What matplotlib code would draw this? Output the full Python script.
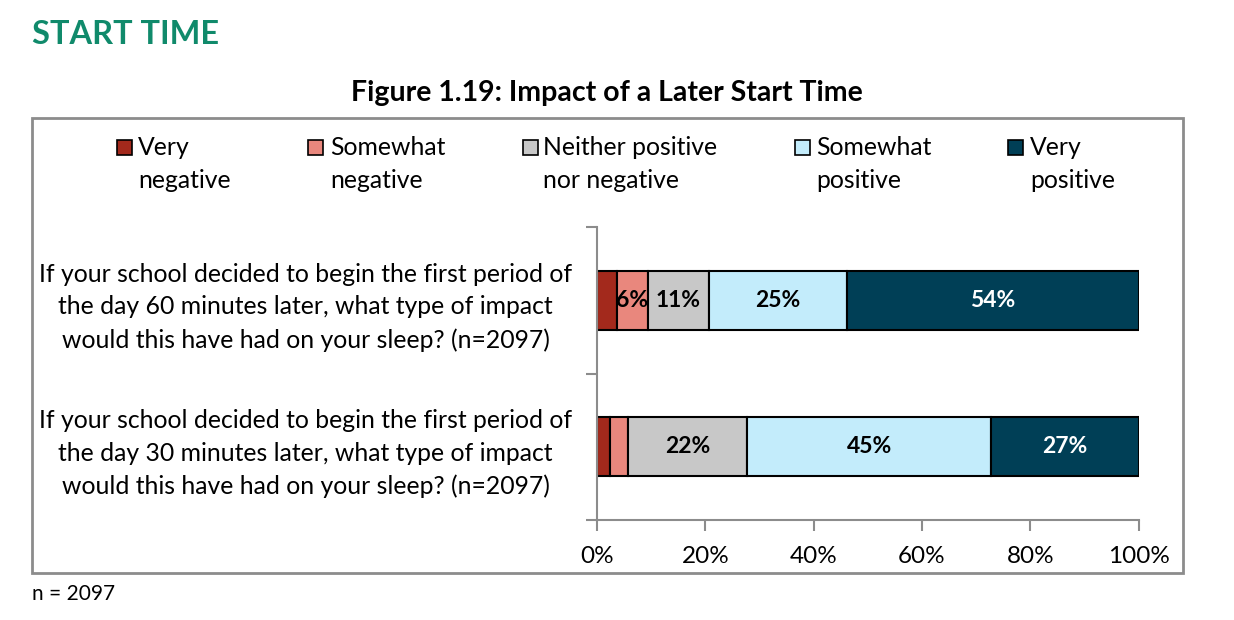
import matplotlib.pyplot as plt
from matplotlib.patches import Rectangle

plt.rcParams['font.family'] = ['Lato', 'DejaVu Sans']

categorias = ["Very\nnegative", "Somewhat\nnegative", "Neither positive\nnor negative",
              "Somewhat\npositive", "Very\npositive"]
perguntas = [
    "If your school decided to begin the first period of\nthe day 60 minutes later, what type of impact\nwould this have had on your sleep? (n=2097)",
    "If your school decided to begin the first period of\nthe day 30 minutes later, what type of impact\nwould this have had on your sleep? (n=2097)",
]
muito_neg = [3.7, 2.4]
algo_neg = [5.7, 3.3]
neutro = [11.3, 22.0]
algo_pos = [25.4, 45.1]
muito_pos = [54.0, 27.2]
ticks_x = [0, 20, 40, 60, 80, 100]

cores = ['#A3291C', '#E9877D', '#C8C8C8', '#C3ECFB', '#003F56']
cor_texto = ['black', 'black', 'black', 'black', 'white']
cinza = '#8C8C8C'

W, H = 1234, 620
fig = plt.figure(figsize=(W / 100, H / 100), dpi=100)
ax = fig.add_axes([597 / W, 1 - 520 / H, (1138.5 - 597) / W, (520 - 227) / H])

series = [muito_neg, algo_neg, neutro, algo_pos, muito_pos]
y = list(range(len(perguntas)))
base = [0] * len(perguntas)
for vals, cor, ct in zip(series, cores, cor_texto):
    barras = ax.barh(y, vals, left=base, height=0.4, color=cor,
                     edgecolor='black', linewidth=1.5)
    rot = [f"{v:.0f}%" if v >= 5 else "" for v in vals]
    ax.bar_label(barras, labels=rot, label_type='center', fontsize=16.5,
                 fontweight='bold', color=ct)
    base = [b + v for b, v in zip(base, vals)]

ax.set_xlim(0, 100)
ax.set_ylim(1.5, -0.5)
ax.set_xticks(ticks_x, [f"{t}%" for t in ticks_x])
ax.set_yticks(y, perguntas)
ax.set_yticks([-0.5, 0.5, 1.5], minor=True)
for lab in ax.get_yticklabels():
    lab.set_multialignment('center')
    lab.set_linespacing(1.5)

ax.tick_params(axis='y', which='major', length=0, pad=18, labelsize=17.8)
ax.tick_params(axis='y', which='minor', length=8, width=1.5, color=cinza, direction='out')
ax.tick_params(axis='x', length=8, width=1.5, color=cinza, labelsize=17.5, pad=11)
for s in ['top', 'right']:
    ax.spines[s].set_visible(False)
for s in ['left', 'bottom']:
    ax.spines[s].set_color(cinza)
    ax.spines[s].set_linewidth(1.5)

# moldura do gráfico
fig.patches.append(Rectangle((32 / W, 1 - 573 / H), (1183 - 32) / W, (573 - 118) / H,
                             transform=fig.transFigure, fill=False,
                             edgecolor=cinza, linewidth=2))

# legenda manual
px = [117, 308, 523, 795, 1008]
tx = [138, 330, 543, 816, 1030]
for nome, cor, a, b in zip(categorias, cores, px, tx):
    fig.patches.append(Rectangle((a / W, 1 - 155 / H), 15 / W, 15 / H,
                                 transform=fig.transFigure, facecolor=cor,
                                 edgecolor='black', linewidth=1.2))
    fig.text(b / W, 1 - 164 / H, nome, fontsize=17.8, va='center', ha='left',
             linespacing=1.54)

fig.text(32 / W, 1 - 35 / H, "START TIME", color='#108A6B', fontsize=23.4,
         fontweight='bold', va='center')
fig.text(607 / W, 1 - 93 / H, "Figure 1.19: Impact of a Later Start Time",
         fontsize=20.5, fontweight='bold', ha='center', va='center')
fig.text(32 / W, 1 - 594 / H, "n = 2097", fontsize=15, va='center')

fig.savefig("out.png", dpi=100)
